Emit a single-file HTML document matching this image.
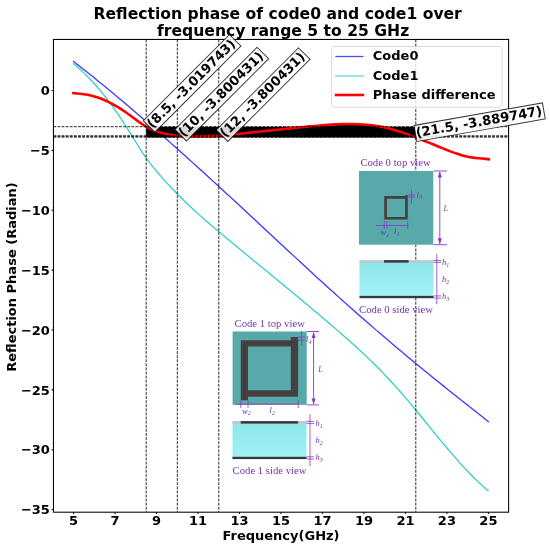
<!DOCTYPE html>
<html><head><meta charset="utf-8"><title>Reflection phase</title><style>
html,body{margin:0;padding:0;background:#fff;overflow:hidden}svg{display:block}
.b{font-family:"DejaVu Sans","Liberation Sans",sans-serif;font-weight:bold}
.s{font-family:"Liberation Serif","DejaVu Serif",serif;fill:#7234aa}
</style></head><body>
<svg width="550" height="549" viewBox="0 0 550 549">
<rect width="550" height="549" fill="#fff"/>
<defs><linearGradient id="cy" x1="0" y1="0" x2="0" y2="1"><stop offset="0" stop-color="#8ce5e9"/><stop offset="1" stop-color="#a2f3f5"/></linearGradient></defs>
<path d="M73.60,61.47 L77.08,64.20 L80.57,66.94 L84.05,69.70 L87.54,72.48 L91.02,75.28 L94.51,78.09 L97.99,80.91 L101.48,83.76 L104.96,86.61 L108.45,89.48 L111.93,92.37 L115.42,95.27 L118.90,98.19 L122.39,101.11 L125.87,104.05 L129.36,107.01 L132.84,109.98 L136.33,112.96 L139.81,115.95 L143.30,118.95 L146.78,121.97 L150.27,124.99 L153.75,128.03 L157.24,131.08 L160.72,134.14 L164.21,137.21 L167.69,140.29 L171.18,143.38 L174.66,146.48 L178.15,149.59 L181.63,152.70 L185.12,155.83 L188.60,158.96 L192.09,162.11 L195.57,165.26 L199.06,168.41 L202.54,171.58 L206.03,174.75 L209.51,177.93 L212.99,181.11 L216.48,184.30 L219.96,187.50 L223.45,190.70 L226.93,193.91 L230.42,197.12 L233.90,200.34 L237.39,203.56 L240.87,206.79 L244.36,210.02 L247.84,213.25 L251.33,216.49 L254.81,219.73 L258.30,222.97 L261.78,226.21 L265.27,229.46 L268.75,232.70 L272.24,235.95 L275.72,239.19 L279.21,242.44 L282.69,245.68 L286.18,248.92 L289.66,252.16 L293.15,255.39 L296.63,258.63 L300.12,261.85 L303.60,265.07 L307.09,268.29 L310.57,271.50 L314.06,274.70 L317.54,277.90 L321.03,281.09 L324.51,284.27 L328.00,287.44 L331.48,290.60 L334.97,293.75 L338.45,296.89 L341.94,300.02 L345.42,303.14 L348.91,306.24 L352.39,309.34 L355.87,312.41 L359.36,315.48 L362.84,318.53 L366.33,321.57 L369.81,324.60 L373.30,327.62 L376.78,330.62 L380.27,333.61 L383.75,336.59 L387.24,339.56 L390.72,342.51 L394.21,345.46 L397.69,348.39 L401.18,351.31 L404.66,354.23 L408.15,357.13 L411.63,360.02 L415.12,362.91 L418.60,365.78 L422.09,368.64 L425.57,371.50 L429.06,374.34 L432.54,377.18 L436.03,380.00 L439.51,382.82 L443.00,385.63 L446.48,388.44 L449.97,391.23 L453.45,394.02 L456.94,396.80 L460.42,399.57 L463.91,402.34 L467.39,405.10 L470.88,407.85 L474.36,410.60 L477.85,413.34 L481.33,416.08 L484.82,418.81 L488.30,421.53" fill="none" stroke="#0000ff" stroke-opacity="0.78" stroke-width="1.3" stroke-linejoin="round" stroke-linecap="square"/>
<path d="M73.70,63.65 L77.18,66.65 L80.66,69.80 L84.15,73.11 L87.63,76.58 L91.11,80.22 L94.59,84.02 L98.08,88.00 L101.56,92.15 L105.04,96.48 L108.52,101.00 L112.01,105.70 L115.49,110.59 L118.97,115.68 L122.45,120.94 L125.94,126.33 L129.42,131.82 L132.90,137.39 L136.38,142.98 L139.86,148.49 L143.35,153.82 L146.83,158.85 L150.31,163.53 L153.79,167.91 L157.28,172.09 L160.76,176.13 L164.24,180.06 L167.72,183.89 L171.21,187.62 L174.69,191.26 L178.17,194.81 L181.65,198.29 L185.14,201.69 L188.62,205.01 L192.10,208.27 L195.58,211.48 L199.06,214.62 L202.55,217.72 L206.03,220.77 L209.51,223.78 L212.99,226.75 L216.48,229.70 L219.96,232.62 L223.44,235.53 L226.92,238.42 L230.41,241.30 L233.89,244.18 L237.37,247.05 L240.85,249.92 L244.34,252.79 L247.82,255.65 L251.30,258.52 L254.78,261.38 L258.26,264.24 L261.75,267.11 L265.23,269.97 L268.71,272.83 L272.19,275.70 L275.68,278.57 L279.16,281.44 L282.64,284.31 L286.12,287.19 L289.61,290.07 L293.09,292.95 L296.57,295.84 L300.05,298.74 L303.54,301.64 L307.02,304.55 L310.50,307.46 L313.98,310.39 L317.46,313.32 L320.95,316.26 L324.43,319.21 L327.91,322.17 L331.39,325.14 L334.88,328.13 L338.36,331.13 L341.84,334.16 L345.32,337.22 L348.81,340.31 L352.29,343.43 L355.77,346.58 L359.25,349.78 L362.74,353.02 L366.22,356.31 L369.70,359.65 L373.18,363.04 L376.66,366.49 L380.15,370.01 L383.63,373.58 L387.11,377.23 L390.59,380.94 L394.08,384.73 L397.56,388.60 L401.04,392.55 L404.52,396.58 L408.01,400.67 L411.49,404.82 L414.97,409.02 L418.45,413.25 L421.94,417.51 L425.42,421.78 L428.90,426.07 L432.38,430.35 L435.86,434.62 L439.35,438.86 L442.83,443.08 L446.31,447.26 L449.79,451.38 L453.28,455.44 L456.76,459.44 L460.24,463.35 L463.72,467.17 L467.21,470.89 L470.69,474.51 L474.17,478.00 L477.65,481.37 L481.14,484.60 L484.62,487.67 L488.10,490.59" fill="none" stroke="#00bfbf" stroke-opacity="0.8" stroke-width="1.3" stroke-linejoin="round" stroke-linecap="square"/>
<path d="M146.19,126.65 L149.60,126.70 L153.02,126.70 L156.43,126.70 L159.84,126.70 L163.25,126.70 L166.67,126.70 L170.08,126.70 L173.49,126.70 L176.91,126.70 L180.32,126.70 L183.73,126.70 L187.14,126.70 L190.56,126.70 L193.97,126.70 L197.38,126.70 L200.80,126.70 L204.21,126.70 L207.62,126.70 L211.04,126.70 L214.45,126.70 L217.86,126.70 L221.27,126.70 L224.69,126.70 L228.10,126.70 L231.51,126.70 L234.93,126.70 L238.34,126.70 L241.75,126.70 L245.16,126.70 L248.58,126.70 L251.99,126.70 L255.40,126.70 L258.82,126.70 L262.23,126.70 L265.64,126.70 L269.05,126.70 L272.47,126.70 L275.88,126.70 L279.29,126.70 L282.71,126.70 L286.12,126.70 L289.53,126.70 L292.95,126.70 L296.36,126.70 L299.77,126.70 L303.18,126.70 L306.60,126.69 L310.01,126.37 L313.42,126.06 L316.84,125.76 L320.25,125.47 L323.66,125.20 L327.07,124.94 L330.49,124.70 L333.90,124.50 L337.31,124.32 L340.73,124.18 L344.14,124.08 L347.55,124.02 L350.96,124.01 L354.38,124.06 L357.79,124.16 L361.20,124.32 L364.62,124.55 L368.03,124.85 L371.44,125.22 L374.86,125.68 L378.27,126.22 L381.68,126.70 L385.09,126.70 L388.51,126.70 L391.92,126.70 L395.33,126.70 L398.75,126.70 L402.16,126.70 L405.57,126.70 L408.98,126.70 L412.40,126.70 L415.81,126.70 L415.81,137.52 L146.19,137.52 Z" fill="#000"/>
<path d="M73.40,93.13 L76.89,93.44 L80.38,93.79 L83.87,94.22 L87.36,94.78 L90.85,95.49 L94.34,96.39 L97.84,97.48 L101.33,98.76 L104.82,100.23 L108.31,101.85 L111.80,103.65 L115.29,105.59 L118.78,107.68 L122.27,109.90 L125.76,112.25 L129.25,114.71 L132.74,117.28 L136.23,119.89 L139.72,122.43 L143.22,124.81 L146.71,126.95 L150.20,128.77 L153.69,130.31 L157.18,131.58 L160.67,132.63 L164.16,133.48 L167.65,134.17 L171.14,134.72 L174.63,135.18 L178.12,135.56 L181.61,135.86 L185.10,136.10 L188.59,136.28 L192.09,136.39 L195.58,136.44 L199.07,136.44 L202.56,136.39 L206.05,136.30 L209.54,136.16 L213.03,135.98 L216.52,135.77 L220.01,135.52 L223.50,135.25 L226.99,134.96 L230.48,134.64 L233.97,134.31 L237.47,133.96 L240.96,133.61 L244.45,133.25 L247.94,132.88 L251.43,132.51 L254.92,132.14 L258.41,131.76 L261.90,131.38 L265.39,131.00 L268.88,130.62 L272.37,130.24 L275.86,129.86 L279.35,129.48 L282.85,129.11 L286.34,128.74 L289.83,128.37 L293.32,128.01 L296.81,127.65 L300.30,127.30 L303.79,126.96 L307.28,126.63 L310.77,126.30 L314.26,125.99 L317.75,125.68 L321.24,125.39 L324.73,125.11 L328.23,124.86 L331.72,124.63 L335.21,124.42 L338.70,124.26 L342.19,124.13 L345.68,124.05 L349.17,124.01 L352.66,124.03 L356.15,124.10 L359.64,124.24 L363.13,124.44 L366.62,124.72 L370.11,125.07 L373.61,125.50 L377.10,126.02 L380.59,126.63 L384.08,127.33 L387.57,128.14 L391.06,129.03 L394.55,130.00 L398.04,131.06 L401.53,132.18 L405.02,133.37 L408.51,134.61 L412.00,135.90 L415.49,137.24 L418.98,138.61 L422.48,140.01 L425.97,141.43 L429.46,142.86 L432.95,144.31 L436.44,145.75 L439.93,147.19 L443.42,148.61 L446.91,150.00 L450.40,151.35 L453.89,152.63 L457.38,153.82 L460.87,154.91 L464.36,155.88 L467.86,156.71 L471.35,157.37 L474.84,157.87 L478.33,158.23 L481.82,158.54 L485.31,158.84 L488.80,159.21" fill="none" stroke="#ff0000" stroke-width="2.6" stroke-linejoin="round" stroke-linecap="square"/>
<g stroke="#000" stroke-width="0.85" stroke-dasharray="2.8,1.3" fill="none">
<path d="M146.19,39.45 V512.2"/>
<path d="M177.30,39.45 V512.2"/>
<path d="M218.78,39.45 V512.2"/>
<path d="M415.81,39.45 V512.2"/>
<path d="M53.45,126.70 H508.6"/>
<path d="M53.45,136.05 H508.6"/>
<path d="M53.45,136.05 H508.6"/>
<path d="M53.45,137.12 H508.6"/>
</g>
<g id="in0">
<text class="s" x="360.4" y="165.6" font-size="10.7">Code 0 top view</text>
<rect x="359" y="171" width="74.3" height="73.7" fill="#58aaaa"/>
<path d="M384.2,196 H405.2 V194.9 H407.8 V219.5 H384.2 Z M386.9,198.7 V216.9 H405.1 V198.7 Z" fill="#463f3f" fill-rule="evenodd"/>
<g stroke="#8a35c8" stroke-width="0.9" fill="none"><path d="M433.5,171 H447 M433.5,244.7 H447 M439.8,172 V243.7"/></g>
<path d="M439.8,171.5 l-2,6 h4 Z M439.8,244.2 l-2,-6 h4 Z" fill="#8a35c8"/>
<text x="443.6" y="211" font-size="8" font-style="italic" class="s">L</text>
<g stroke="#8a35c8" stroke-width="0.8" fill="none"><path d="M411.4,190 V204 M408,195 H415 M408,197 H415"/></g>
<text x="416.5" y="197.5" font-size="8.5" font-style="italic" class="s">l<tspan font-size="6" dy="1.8">3</tspan></text>
<g stroke="#8a35c8" stroke-width="0.8" fill="none"><path d="M376,225.5 H408 M384.2,221 V229 M386.9,221 V229 M407.8,221 V229"/></g>
<text x="380.5" y="235" font-size="8.5" font-style="italic" class="s">w<tspan font-size="6" dy="1.8">1</tspan></text>
<text x="394" y="234" font-size="8.5" font-style="italic" class="s">l<tspan font-size="6" dy="1.8">1</tspan></text>
<rect x="359.5" y="260.5" width="74" height="37.6" fill="url(#cy)"/>
<rect x="359.5" y="260.3" width="74" height="2.1" fill="#c4c4c4"/>
<rect x="384" y="260.1" width="24.6" height="2.5" fill="#3c3838"/>
<rect x="359.5" y="295.9" width="74" height="2.3" fill="#3c3838"/>
<g stroke="#8a35c8" stroke-width="0.8" fill="none"><path d="M436.8,254 V304 M433.5,260.5 H441 M433.5,262.4 H441 M433.5,295.9 H441 M433.5,298.1 H441"/></g>
<text x="442" y="265" font-size="8.5" font-style="italic" class="s">h<tspan font-size="6" dy="1.8">1</tspan></text>
<text x="442" y="282" font-size="8.5" font-style="italic" class="s">h<tspan font-size="6" dy="1.8">2</tspan></text>
<text x="442" y="299" font-size="8.5" font-style="italic" class="s">h<tspan font-size="6" dy="1.8">3</tspan></text>
<text class="s" x="359.1" y="312.9" font-size="10.7">Code 0 side view</text>
</g>
<g id="in1">
<text class="s" x="234.5" y="326.7" font-size="10.7">Code 1 top view</text>
<rect x="232.6" y="331.5" width="74.1" height="73.4" fill="#58aaaa"/>
<path d="M240.8,340.2 H290.8 V337 H298.1 V396.7 H248 V400.3 H240.8 Z M248,346.6 V390.3 H290.8 V346.6 Z" fill="#463f3f" fill-rule="evenodd"/>
<g stroke="#8a35c8" stroke-width="0.9" fill="none"><path d="M306.7,331.5 H319 M306.7,404.9 H319 M313.6,332.5 V404"/></g>
<path d="M313.6,332 l-2,6 h4 Z M313.6,404.4 l-2,-6 h4 Z" fill="#8a35c8"/>
<text x="318.2" y="372" font-size="8" font-style="italic" class="s">L</text>
<g stroke="#8a35c8" stroke-width="0.8" fill="none"><path d="M301.5,331 V345 M298.1,337 H305 M298.1,340.2 H305"/></g>
<text x="306" y="342" font-size="8.5" font-style="italic" class="s">l<tspan font-size="6" dy="1.8">4</tspan></text>
<g stroke="#8a35c8" stroke-width="0.8" fill="none"><path d="M236,404.1 H299 M240.8,400 V408 M248,400 V408 M298.1,400 V408"/></g>
<text x="242" y="413.5" font-size="8.5" font-style="italic" class="s">w<tspan font-size="6" dy="1.8">2</tspan></text>
<text x="269.5" y="413" font-size="8.5" font-style="italic" class="s">l<tspan font-size="6" dy="1.8">2</tspan></text>
<rect x="232.5" y="421.4" width="74" height="37.6" fill="url(#cy)"/>
<rect x="232.5" y="421.2" width="74" height="2.3" fill="#c4c4c4"/>
<rect x="240.7" y="421.1" width="57.3" height="2.5" fill="#3c3838"/>
<rect x="232.5" y="456.8" width="74" height="2.3" fill="#3c3838"/>
<g stroke="#8a35c8" stroke-width="0.8" fill="none"><path d="M310,414 V466 M306.5,421.4 H314 M306.5,423.6 H314 M306.5,456.8 H314 M306.5,459 H314"/></g>
<text x="315.5" y="426" font-size="8.5" font-style="italic" class="s">h<tspan font-size="6" dy="1.8">1</tspan></text>
<text x="315.5" y="443" font-size="8.5" font-style="italic" class="s">h<tspan font-size="6" dy="1.8">2</tspan></text>
<text x="315.5" y="460" font-size="8.5" font-style="italic" class="s">h<tspan font-size="6" dy="1.8">3</tspan></text>
<text class="s" x="232.6" y="474.1" font-size="10.7">Code 1 side view</text>
</g>
<rect x="331.6" y="46.5" width="170.4" height="60.7" rx="2.6" fill="#fff" fill-opacity="0.8" stroke="#d8d8d8" stroke-width="0.95"/>
<path d="M336,56.5 H362.9" stroke="#0000ff" stroke-opacity="0.7" stroke-width="1.3" stroke-linecap="square"/>
<path d="M336,75.9 H362.9" stroke="#7fdede" stroke-width="1.6" stroke-linecap="square"/>
<path d="M336,95 H362.9" stroke="#ff0000" stroke-width="2.6" stroke-linecap="square"/>
<text class="b" font-size="13" x="372.8" y="60.4">Code0</text>
<text class="b" font-size="13" x="372.8" y="79.6">Code1</text>
<text class="b" font-size="13" x="372.8" y="98.8">Phase difference</text>
<rect x="53.45" y="39.45" width="455.15" height="472.75" fill="none" stroke="#000" stroke-width="1.05"/>
<path d="M73.60,512.2 v1.8 M115.08,512.2 v1.8 M156.56,512.2 v1.8 M198.04,512.2 v1.8 M239.52,512.2 v1.8 M281.00,512.2 v1.8 M322.48,512.2 v1.8 M363.96,512.2 v1.8 M405.44,512.2 v1.8 M446.92,512.2 v1.8 M488.40,512.2 v1.8 M53.45,90.55 h-1.8 M53.45,150.41 h-1.8 M53.45,210.27 h-1.8 M53.45,270.13 h-1.8 M53.45,329.99 h-1.8 M53.45,389.85 h-1.8 M53.45,449.71 h-1.8 M53.45,509.57 h-1.8" stroke="#000" stroke-width="1.05"/>
<text class="b" font-size="13" x="73.60" y="525.2" text-anchor="middle">5</text>
<text class="b" font-size="13" x="115.08" y="525.2" text-anchor="middle">7</text>
<text class="b" font-size="13" x="156.56" y="525.2" text-anchor="middle">9</text>
<text class="b" font-size="13" x="198.04" y="525.2" text-anchor="middle">11</text>
<text class="b" font-size="13" x="239.52" y="525.2" text-anchor="middle">13</text>
<text class="b" font-size="13" x="281.00" y="525.2" text-anchor="middle">15</text>
<text class="b" font-size="13" x="322.48" y="525.2" text-anchor="middle">17</text>
<text class="b" font-size="13" x="363.96" y="525.2" text-anchor="middle">19</text>
<text class="b" font-size="13" x="405.44" y="525.2" text-anchor="middle">21</text>
<text class="b" font-size="13" x="446.92" y="525.2" text-anchor="middle">23</text>
<text class="b" font-size="13" x="488.40" y="525.2" text-anchor="middle">25</text>
<text class="b" font-size="13" x="49.9" y="95.30" text-anchor="end">0</text>
<text class="b" font-size="13" x="49.9" y="155.16" text-anchor="end">−5</text>
<text class="b" font-size="13" x="49.9" y="215.02" text-anchor="end">−10</text>
<text class="b" font-size="13" x="49.9" y="274.88" text-anchor="end">−15</text>
<text class="b" font-size="13" x="49.9" y="334.74" text-anchor="end">−20</text>
<text class="b" font-size="13" x="49.9" y="394.60" text-anchor="end">−25</text>
<text class="b" font-size="13" x="49.9" y="454.46" text-anchor="end">−30</text>
<text class="b" font-size="13" x="49.9" y="514.32" text-anchor="end">−35</text>
<text class="b" font-size="13" x="281" y="540.1" text-anchor="middle">Frequency(GHz)</text>
<text class="b" font-size="13" transform="translate(15.7,277.05) rotate(-90)" text-anchor="middle">Reflection Phase (Radian)</text>
<text class="b" font-size="15.6" x="93.5" y="18.9">Reflection phase of code0 and code1 over</text>
<text class="b" font-size="15.6" x="157.0" y="36.4">frequency range 5 to 25 GHz</text>
<g transform="translate(143.3,120.7) rotate(-45)">
<rect x="0" y="0" width="121.8" height="16.3" fill="#fff" fill-opacity="0.85" stroke="#000" stroke-opacity="0.8" stroke-width="0.95"/>
<text class="b" x="0.6" y="12.0" font-size="13.1">(8.5, -3.019743)</text>
</g>
<g transform="translate(174.9,129.5) rotate(-45)">
<rect x="0" y="0" width="116.2" height="16.3" fill="#fff" fill-opacity="0.85" stroke="#000" stroke-opacity="0.8" stroke-width="0.95"/>
<text class="b" x="0.6" y="12.0" font-size="13.1">(10, -3.800431)</text>
</g>
<g transform="translate(216.3,130.0) rotate(-45)">
<rect x="0" y="0" width="116.2" height="16.3" fill="#fff" fill-opacity="0.85" stroke="#000" stroke-opacity="0.8" stroke-width="0.95"/>
<text class="b" x="0.6" y="12.0" font-size="13.1">(12, -3.800431)</text>
</g>
<g transform="translate(414.0,125.5) rotate(-10)">
<rect x="0" y="0" width="130.4" height="16.3" fill="#fff" fill-opacity="0.85" stroke="#000" stroke-opacity="0.8" stroke-width="0.95"/>
<text class="b" x="0.6" y="12.0" font-size="13.1">(21.5, -3.889747)</text>
</g>
</svg></body></html>
